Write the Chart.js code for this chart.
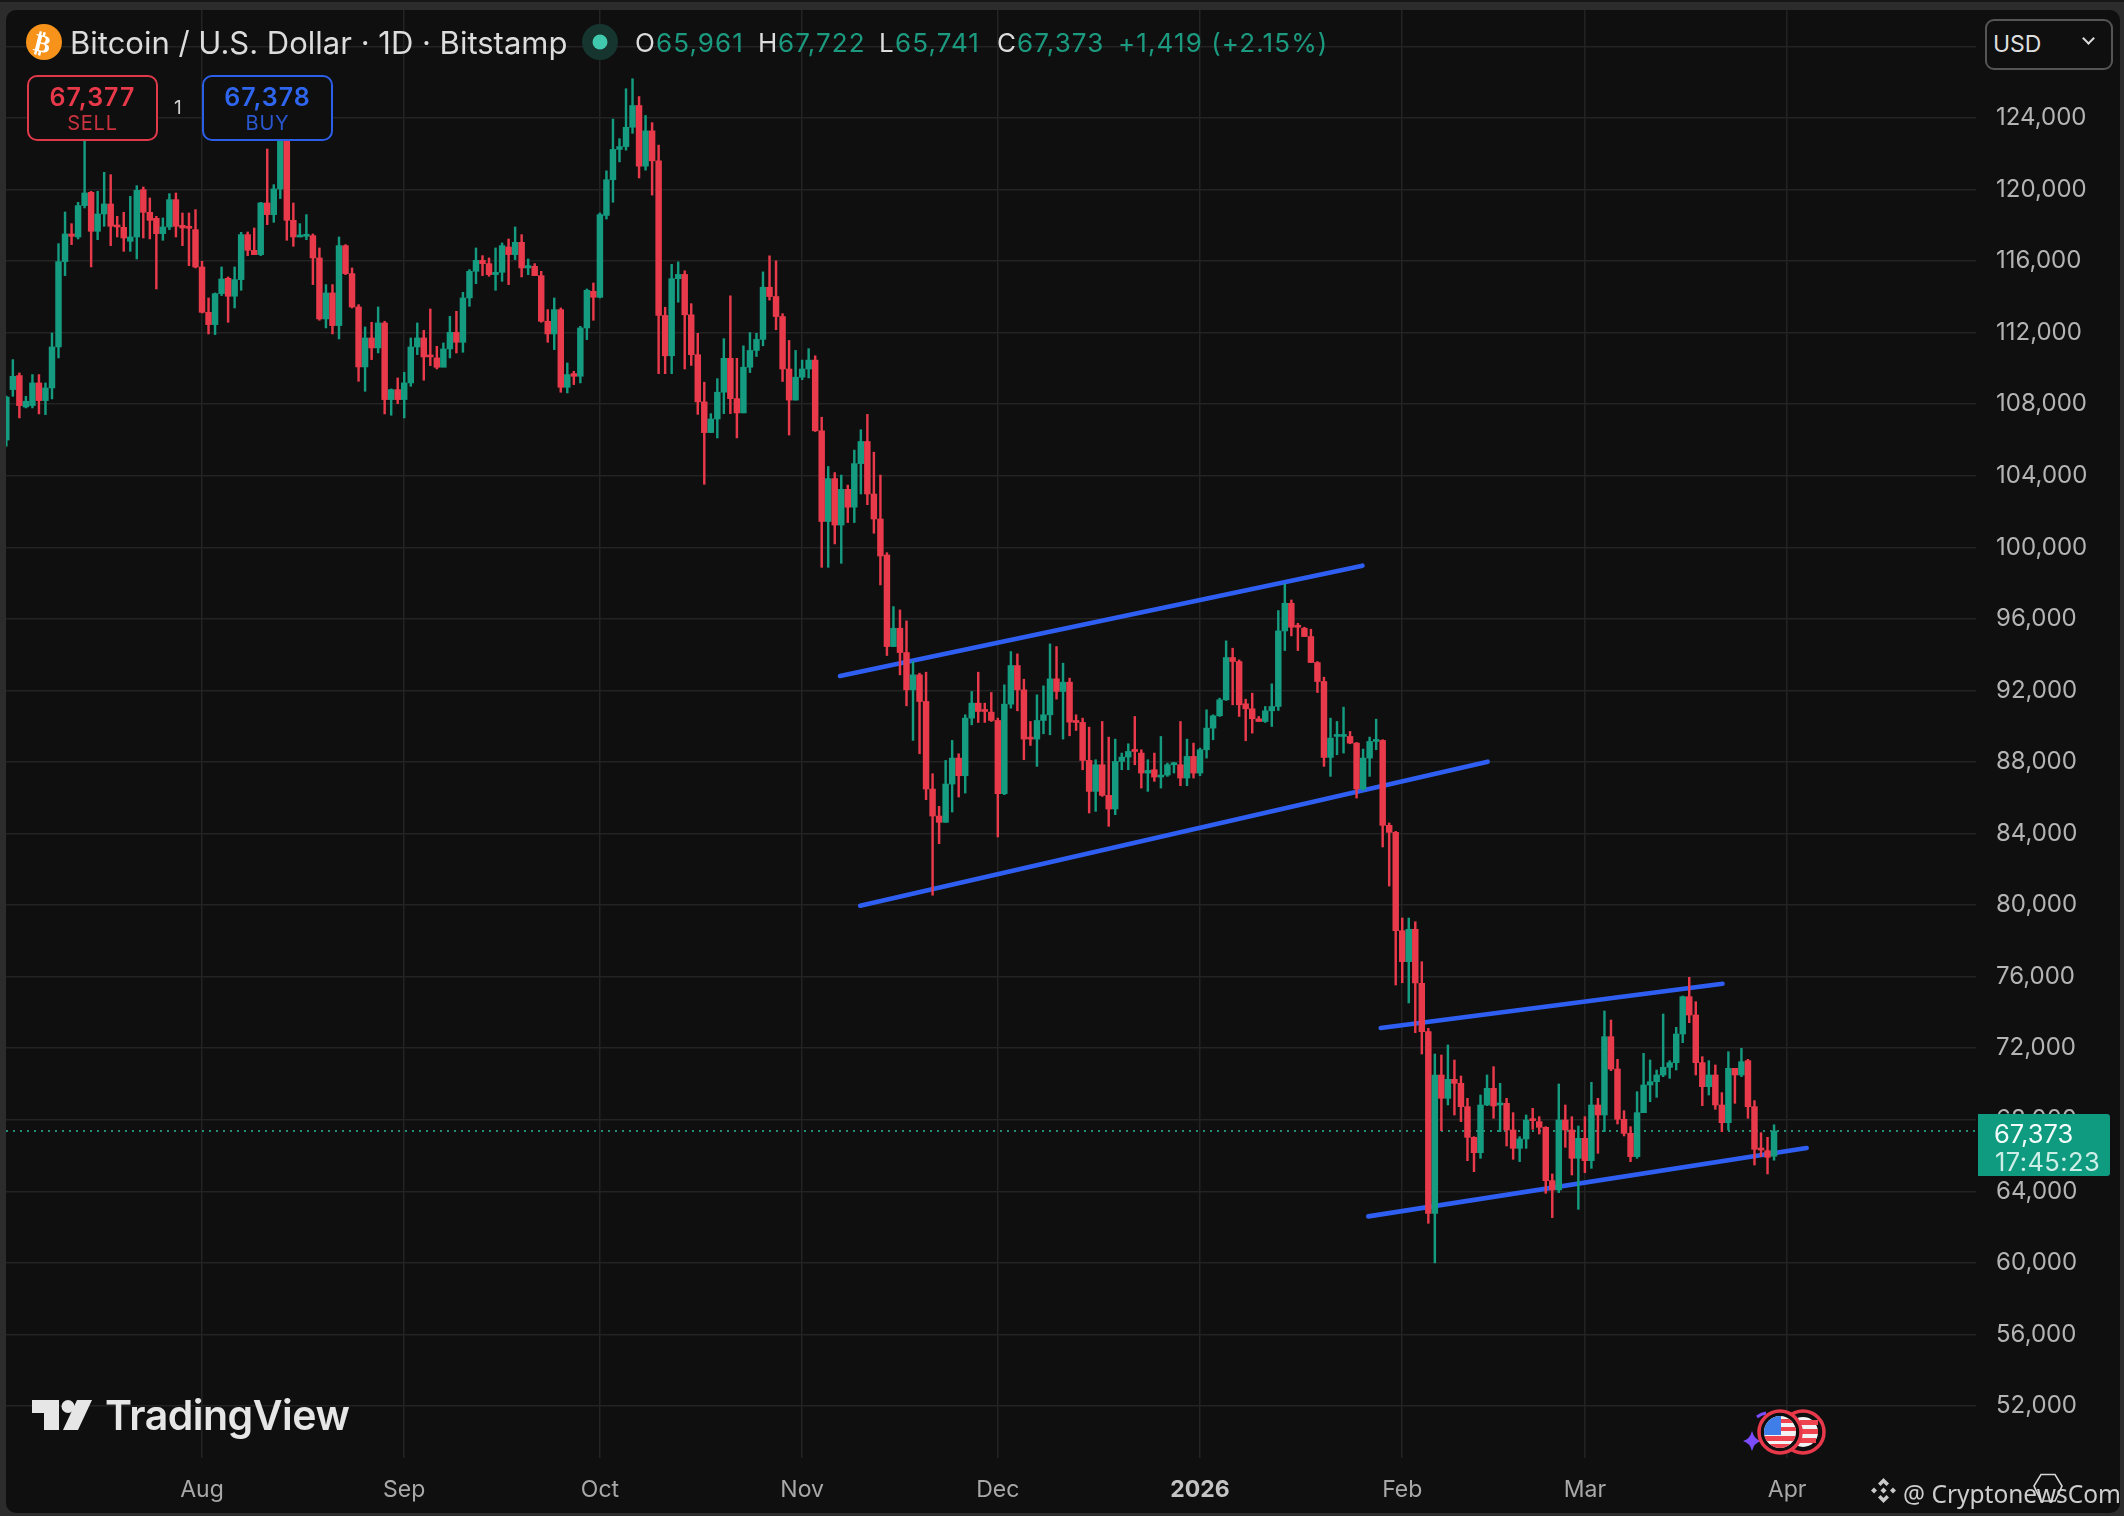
<!DOCTYPE html>
<html>
<head>
<meta charset="utf-8">
<title>BTCUSD</title>
<script src="https://cdn.jsdelivr.net/npm/chart.js@4"></script>
<style>
  html, body { margin: 0; padding: 0; background: #2c2c2c; }
  body { width: 2124px; height: 1516px; position: relative; overflow: hidden; font-family: Inter, sans-serif; }
  #strip { position: absolute; left: 0; top: 0; width: 2124px; height: 2px; background: #171717; }
  #panel { position: absolute; left: 6px; top: 10px; width: 2114px; height: 1503px; background: #0f0f0f; border-radius: 10px; }
  canvas { position: absolute; left: 0; top: 0; }
  .t { position: absolute; white-space: nowrap; line-height: 1; }
  .g { color: #1c9a80; }
  .w { color: #dcdcdc; }
  .o { font-size: 26px; top: 30px; letter-spacing: 1.1px; }
  .box { position: absolute; top: 75px; width: 127px; height: 62px; border: 2.5px solid; border-radius: 10px; background: #0f0f0f; text-align: center; }
  .box .p { position: absolute; left: 0; right: 0; top: 8px; font-size: 25px; font-weight: 600; line-height: 1; letter-spacing: 1px; }
  .box .s { position: absolute; left: 0; right: 0; top: 36px; font-size: 20px; line-height: 1; letter-spacing: .8px; }
  #usd { position: absolute; left: 1985px; top: 19px; width: 124px; height: 47px; border: 2px solid #555; border-radius: 9px; background: #0f0f0f; }
  #chev { position: absolute; left: 97px; top: 13px; width: 7px; height: 7px; border-right: 2.5px solid #ddd; border-bottom: 2.5px solid #ddd; transform: rotate(45deg); }
  #last { position: absolute; left: 1978px; width: 132px; height: 62px; background: #0f9b80; border-radius: 0 3px 3px 0; }
  svg { position: absolute; }
</style>
</head>
<body>
<div id="strip"></div>
<div id="panel"></div>
<canvas id="chart" width="2124" height="1516"></canvas>

<svg style="left:26px;top:24px" width="36" height="36"><circle cx="18" cy="18" r="18" fill="#f7931a"/></svg>
<div class="t" style="left:34px;top:29px;font:bold 25px 'DejaVu Sans';color:#fff;transform:rotate(14deg)">₿</div>
<div class="t" id="title" style="left:70px;top:27px;font-size:31px;color:#dcdcdc">Bitcoin / U.S. Dollar · 1D · Bitstamp</div>
<svg style="left:582px;top:24px" width="36" height="36"><circle cx="18" cy="18" r="18" fill="#17352f"/><circle cx="18" cy="18" r="7.5" fill="#41c9ae"/></svg>

<div class="t w o" style="left:635px">O</div>
<div class="t g o" style="left:656px">65,961</div>
<div class="t w o" style="left:758px">H</div>
<div class="t g o" style="left:778px">67,722</div>
<div class="t w o" style="left:879px">L</div>
<div class="t g o" style="left:895px">65,741</div>
<div class="t w o" style="left:997px">C</div>
<div class="t g o" style="left:1017px">67,373</div>
<div class="t g o" style="left:1118px">+1,419 (+2.15%)</div>

<div class="box" style="left:27px;border-color:#e0394a;color:#e8394a"><div class="p">67,377</div><div class="s" style="color:#c9333f">SELL</div></div>
<div class="t" style="left:174px;top:98px;font-size:19px;color:#d0d0d0">1</div>
<div class="box" style="left:202px;border-color:#2b5fe8;color:#2f66f0"><div class="p">67,378</div><div class="s" style="color:#2a58d0">BUY</div></div>

<div id="usd"><div class="t" style="left:6px;top:12px;font-size:23px;color:#dedede">USD</div><div id="chev"></div></div>

<div id="last">
  <div class="t" style="left:16px;top:7px;font-size:25.5px;color:#f2fbf9">67,373</div>
  <div class="t" style="left:17px;top:35px;font-size:25.5px;letter-spacing:.4px;color:#cdeee6">17:45:23</div>
</div>

<svg style="left:32px;top:1400px" width="60" height="30" fill="#e6e6e6">
  <path d="M0 0H27V30H12V13H0Z"/><circle cx="36" cy="6.5" r="6.5"/><path d="M45 0H60L46 30H31Z"/>
</svg>
<div class="t" style="left:105px;top:1395px;font-size:41px;font-weight:600;letter-spacing:-.5px;color:#e6e6e6">TradingView</div>

<svg style="left:1740px;top:1406px" width="100" height="54">
  <path d="M26 7 A21 21 0 0 0 17 11" stroke="#7c4dff" stroke-width="3" fill="none"/>
  <path d="M12 25 Q14 33 21 35 Q14 37 12 45 Q10 37 3 35 Q10 33 12 25Z" fill="#7c4dff"/>
  <g>
    <circle cx="63" cy="26" r="21" fill="#0f0f0f" stroke="#e8394a" stroke-width="3.5"/>
    <circle cx="63" cy="26" r="15" fill="#f2f2f2"/>
    <rect x="60" y="14" width="18" height="5" fill="#ef4350"/><rect x="56" y="23" width="22" height="5" fill="#ef4350"/><rect x="56" y="32" width="20" height="5" fill="#ef4350"/>
  </g>
  <g>
    <circle cx="40" cy="26" r="21" fill="#0f0f0f" stroke="#e8394a" stroke-width="3.5"/>
    <clipPath id="flag"><circle cx="40" cy="26" r="16"/></clipPath>
    <g clip-path="url(#flag)">
      <rect x="24" y="10" width="32" height="32" fill="#f4f4f4"/>
      <rect x="24" y="30" width="32" height="5" fill="#ef4350"/><rect x="24" y="38" width="32" height="5" fill="#ef4350"/>
      <rect x="40" y="13" width="16" height="4" fill="#ef4350"/><rect x="40" y="21" width="16" height="4" fill="#ef4350"/>
      <rect x="24" y="10" width="17" height="19" fill="#3f7de8"/>
    </g>
  </g>
</svg>

<svg style="left:1870px;top:1477px" width="27" height="27" fill="#c9c9c9">
  <path d="M13.5 1 L19 6.5 L16.5 9 L13.5 6 L10.5 9 L8 6.5Z"/>
  <path d="M13.5 26 L19 20.5 L16.5 18 L13.5 21 L10.5 18 L8 20.5Z"/>
  <path d="M1 13.5 L4 10.5 L7 13.5 L4 16.5Z"/><path d="M26 13.5 L23 10.5 L20 13.5 L23 16.5Z"/>
  <path d="M13.5 10.5 L16.5 13.5 L13.5 16.5 L10.5 13.5Z"/>
</svg>
<div class="t" style="left:1903px;top:1477px;font:24.5px 'Noto Sans';color:#cdcdcd">@ CryptonewsCom</div>
<svg style="left:2032px;top:1473px" width="32" height="30" fill="none" stroke="#d5d5d5" stroke-width="1.6"><path d="M9 1.5H23L30 13L23 28H9L2 13Z"/></svg>

<script>
// values, one candle a day, first candle is 2 Jul 2025
var firstDay = -30; // days from 1 Aug 2025

var opens = [
  106000,108817,109600,107848,107923,109190,108203,108910,111202,115971,
  117517,117349,119101,119846,117666,118635,119194,118002,117890,117107,
  117349,119995,118728,118393,117536,117908,119436,118002,117890,117759,
  115673,113139,112450,114182,115039,114036,114965,117480,116604,116362,
  119250,118598,120032,123400,118281,117349,117387,117424,116176,112767,
  114220,112394,116865,115300,113437,110084,111705,111146,112543,108258,
  108817,108258,109190,111202,111705,110717,110587,110065,111090,112021,
  111462,113940,115430,116045,115859,115244,115375,116790,116362,117051,
  115617,115710,115188,112636,111928,113288,108947,109711,109562,112264,
  114313,113978,118551,120547,122244,122403,123481,124699,121306,123282,
  121605,112962,110707,115018,115258,112999,110767,108132,106415,107174,
  108671,110567,108312,107514,110068,111007,111625,114540,114020,112903,
  109968,108231,109510,109968,110467,106515,101445,103842,101245,103241,
  102244,104679,105917,102982,101585,99572,94454,95477,94119,92035,
  92872,91383,86489,84980,84628,86768,88219,87233,90453,91290,
  90899,90788,90322,86228,91234,93393,92035,89336,89280,90322,
  90639,92648,91942,92462,90266,90211,88089,86358,87847,86135,
  85372,88033,88275,88666,88499,87382,87568,87159,87270,87847,
  87847,87103,88313,87382,88685,89894,90583,91476,93840,93616,
  91253,90974,90415,90266,90862,91104,95328,96873,95607,95477,
  95012,93560,92500,88256,89429,89429,89429,89057,86489,88219,
  89150,89206,84460,84070,78570,76840,78650,75627,72926,62772,
  70504,69200,70262,70038,68734,67020,66163,68827,69759,68827,
  68920,67430,66405,66927,68026,67896,67579,64598,64077,67989,
  67430,65847,66964,65716,68827,68268,72646,70839,68026,67244,
  65940,68399,69945,70131,70504,70932,71193,72795,74882,73857,
  71193,69852,70504,68827,67840,70876,70504,71305,68734,66405,
  66275,65961
];

var highs = [
  108450,110494,109748,108444,109656,109656,109190,111984,116977,118747,
  118095,119287,123200,119902,119902,120964,120833,118505,118728,119622,
  120218,120144,119529,118505,118411,119771,119809,118691,118691,118877,
  115990,113940,114220,115673,115114,115673,117610,117629,117852,119287,
  122268,120274,124000,124450,119250,118095,118598,117517,116735,114686,
  114686,117349,116921,115617,113568,112319,112580,113437,112636,108854,
  109469,109786,111705,112543,112133,113325,111239,111426,112915,113195,
  114257,115524,116735,116306,116176,116735,117014,117238,117908,117480,
  116120,115859,115430,113288,113940,113381,110307,109841,112357,114443,
  114778,118691,121046,123941,122843,125637,126196,125198,124140,123741,
  122483,113422,115817,115957,115457,113621,111964,109230,107474,109430,
  111665,114060,110567,111266,112005,111964,115398,116296,116016,113062,
  111565,111007,110467,111106,110707,107274,104520,104180,104041,103481,
  105437,106575,107433,105318,104041,99702,96687,96501,95887,93616,
  92965,93021,87345,85521,88089,89206,88461,90639,91942,93021,
  91290,91885,90453,92314,94175,94044,92630,90266,91755,92258,
  94603,94454,93523,92686,90639,90453,89950,88126,90266,89392,
  89280,88499,89020,90546,88685,88126,88499,89429,87940,87977,
  90266,89280,89057,88778,90918,90639,91569,94770,94361,93709,
  91513,91848,90546,91104,92370,96464,97952,97059,95756,95533,
  95421,93616,92742,90453,90266,91067,89708,89094,88722,89392,
  90397,89250,84590,84125,79280,79280,79070,76838,73112,71678,
  71622,72180,71342,70448,69200,67057,69386,70504,70970,70038,
  69200,68399,67057,68268,68641,68175,67616,64971,70001,68827,
  68175,67653,68175,70094,69200,74081,73578,71379,68510,67616,
  69572,71715,71342,70783,73913,71305,73168,74919,75962,74602,
  71529,71305,71063,69517,71808,70876,71994,71379,69069,67281,
  67020,67722
];

var lows = [
  105650,108444,107234,107792,107792,107457,107420,108296,110587,115188,
  116921,117238,118970,115673,117200,117946,116865,117349,116548,116548,
  116120,117293,117238,114443,117163,117759,117349,116865,115747,115617,
  113102,111928,111891,114071,112580,113381,114369,116306,116362,116306,
  118039,118169,119500,117163,116828,117349,117200,114686,112692,112264,
  111928,111649,115244,113381,109283,108724,110494,110866,107457,107383,
  108034,107234,109003,110773,109339,110158,109972,110121,110587,110866,
  110903,113474,114741,115188,115151,114369,114871,114686,116083,115114,
  115244,115188,112580,111462,111053,108668,108631,109097,109190,111611,
  112692,113940,118351,119290,121545,122204,123142,120647,121086,119689,
  109709,109709,109709,113701,109969,110168,107433,103522,106415,106116,
  107474,107474,106116,107514,109769,110667,111266,113821,112164,109270,
  106276,108231,109370,109470,106475,98883,98883,100190,99106,101386,
  101386,102982,102384,100787,97897,93951,94454,92872,91141,89206,
  88461,85893,80552,83436,84628,85204,86042,86265,90080,90211,
  90211,90266,83809,86172,91011,90862,88126,88927,87754,89578,
  89522,91513,89280,89466,89764,87568,85149,85242,86079,84404,
  85056,87568,87568,87847,86545,86358,86917,86545,87196,87382,
  86675,86675,87103,87233,88219,89243,90546,91439,91197,90546,
  89187,89615,90266,90211,89988,90880,94230,95049,94230,95012,
  93560,91885,87754,87196,88405,88499,89020,85986,86415,87196,
  88685,83250,81064,75535,75660,74530,72870,71678,62214,60000,
  67393,68827,68268,67896,65716,65101,65847,68790,68082,67337,
  66536,65790,65660,66405,67467,67206,63890,62530,63928,66461,
  64915,62996,65045,65287,66126,67337,70746,67765,67095,65660,
  65847,68399,69014,69256,70411,70318,70783,72311,73429,70504,
  68790,69386,68585,67337,67430,68920,70411,68082,65474,65940,
  64971,65741
];

var closes = [
  108400,109562,107923,108165,109190,108203,108910,111202,115971,117517,
  117387,119101,119809,117666,118635,119194,117946,117908,117293,117349,
  119958,118728,118281,117536,117908,119436,117946,117852,117834,115673,
  113139,112450,114182,115002,114036,114965,117480,116604,116362,119250,
  118598,120032,123400,118281,117349,117461,117461,116176,112767,114220,
  112394,116865,115300,113437,110084,111705,111146,112543,108258,108817,
  108258,109190,111202,111705,110643,110643,110065,111090,112021,111462,
  113940,115430,116045,115859,115244,115375,116865,116362,117051,115617,
  115747,115188,112636,111928,113288,108947,109656,109562,112264,114369,
  113978,118598,120547,122244,122403,123481,124699,121306,123282,121605,
  112962,110707,115018,115258,112999,110767,108132,106415,107174,108671,
  110567,108312,107514,110068,111007,111625,114540,114020,112903,109968,
  108231,109510,109968,110467,106515,101445,103842,101245,103241,102244,
  104679,105917,102982,101585,99516,94454,95477,94119,92035,92872,
  91383,86489,84980,84628,86768,88219,87233,90453,91290,90825,
  90825,90322,86228,91234,93393,92035,89280,89280,90322,90639,
  92648,91942,92462,90229,90211,88089,86358,87847,86135,85372,
  88033,88275,88591,88591,87382,87531,87159,87270,87847,87903,
  87103,88313,87382,88685,89894,90583,91476,93840,93616,91197,
  90974,90415,90266,90862,91104,95328,96873,95533,95533,95012,
  93560,92500,88256,89336,89522,89522,89057,86489,88219,89150,
  89206,84460,84070,78570,76840,78650,75650,72926,62772,70504,
  69200,70262,70038,68734,67020,66163,68827,69759,68771,68920,
  67430,66405,66927,67989,67951,67579,64598,64077,67989,67430,
  65847,66964,65716,68827,68268,72646,70839,68026,67244,65940,
  68399,69945,70131,70504,70932,71193,72795,74882,73857,71193,
  69852,70504,68827,67840,70876,70504,71249,68734,66349,66312,
  65902,67373
];

var monthDays = [0, 31, 61, 92, 122, 153, 184, 212, 243];
var monthLabels = ['Aug', 'Sep', 'Oct', 'Nov', 'Dec', '2026', 'Feb', 'Mar', 'Apr'];
var priceTicks = [128000, 124000, 120000, 116000, 112000, 108000, 104000, 100000, 96000, 92000, 88000, 84000, 80000, 76000, 72000, 68000, 64000, 60000, 56000, 52000];

// drawn trend lines: [day, price, day, price]
var trendA = [97.8, 92807, 177.9, 98974];
var trendB = [100.9, 79967, 197.1, 88017];
var trendC = [180.7, 73131, 233.1, 75607];
var trendD = [178.8, 62600, 246.0, 66423];

var lastPrice = 67373;
var xRange = [-30.05, 271.96];
var yRange = [49094, 130037];

var UP = '#149b80', DOWN = '#e93a4b', BLUE = '#2f5ff2', GRID = '#232323';

function candleColor(ctx) {
  return closes[ctx.dataIndex] >= opens[ctx.dataIndex] ? UP : DOWN;
}

function trendDataset(t) {
  return {
    type: 'line', order: 3,
    data: [{ x: t[0], y: t[1] }, { x: t[2], y: t[3] }],
    borderColor: BLUE, borderWidth: 4.6, borderCapStyle: 'round',
    pointRadius: 0, tension: 0
  };
}

var wicks = highs.map(function (h, i) { return { x: firstDay + i, y: [lows[i], h] }; });
var bodies = opens.map(function (o, i) { return { x: firstDay + i, y: [Math.min(o, closes[i]), Math.max(o, closes[i])] }; });

var chart = new Chart(document.getElementById('chart'), {
  type: 'bar',
  data: {
    datasets: [
      { data: bodies, order: 1, backgroundColor: candleColor, barThickness: 5.8, minBarLength: 2, grouped: false },
      { data: wicks, order: 2, backgroundColor: candleColor, barThickness: 1.8, grouped: false },
      trendDataset(trendA), trendDataset(trendB), trendDataset(trendC), trendDataset(trendD),
      {
        type: 'line', order: 4,
        data: [{ x: xRange[0], y: lastPrice }, { x: xRange[1], y: lastPrice }],
        borderColor: '#2fb79b', borderWidth: 1.6, borderDash: [2, 5], pointRadius: 0
      }
    ]
  },
  options: {
    responsive: false,
    animation: false,
    layout: { padding: { left: 6, top: 10, right: 0, bottom: 0 } },
    plugins: { legend: { display: false }, tooltip: { enabled: false } },
    scales: {
      x: {
        type: 'linear',
        min: xRange[0],
        max: xRange[1],
        offset: false,
        afterFit: function (scale) {
          scale.height = 58;
          scale.paddingLeft = 0;
          scale.paddingRight = 0;
        },
        afterBuildTicks: function (scale) {
          scale.ticks = monthDays.map(function (d) { return { value: d }; });
        },
        grid: { color: GRID, lineWidth: 1.5, offset: false, drawTicks: false },
        border: { display: false },
        ticks: {
          autoSkip: false, maxRotation: 0, padding: 18,
          color: function (ctx) { return ctx.index === 5 ? '#c4c4c4' : '#a8a8a8'; },
          font: function (ctx) { return { family: 'Inter', size: 23, weight: ctx.index === 5 ? 'bold' : 'normal' }; },
          callback: function (v) { return monthLabels[monthDays.indexOf(v)]; }
        }
      },
      y: {
        position: 'right',
        min: yRange[0],
        max: yRange[1],
        afterFit: function (scale) {
          scale.width = 148;
          scale.paddingTop = 0;
          scale.paddingBottom = 0;
        },
        afterBuildTicks: function (scale) {
          scale.ticks = priceTicks.map(function (p) { return { value: p }; });
        },
        grid: { color: GRID, lineWidth: 1.5, drawTicks: false },
        border: { display: false },
        ticks: {
          padding: 20, color: '#b4b4b4',
          font: { family: 'Inter', size: 24 },
          callback: function (v) { return v.toLocaleString('en-US'); }
        }
      }
    }
  }
});

// price tag sits on the last price
document.getElementById('last').style.top = (chart.scales.y.getPixelForValue(lastPrice) - 17) + 'px';
</script>
</body>
</html>
